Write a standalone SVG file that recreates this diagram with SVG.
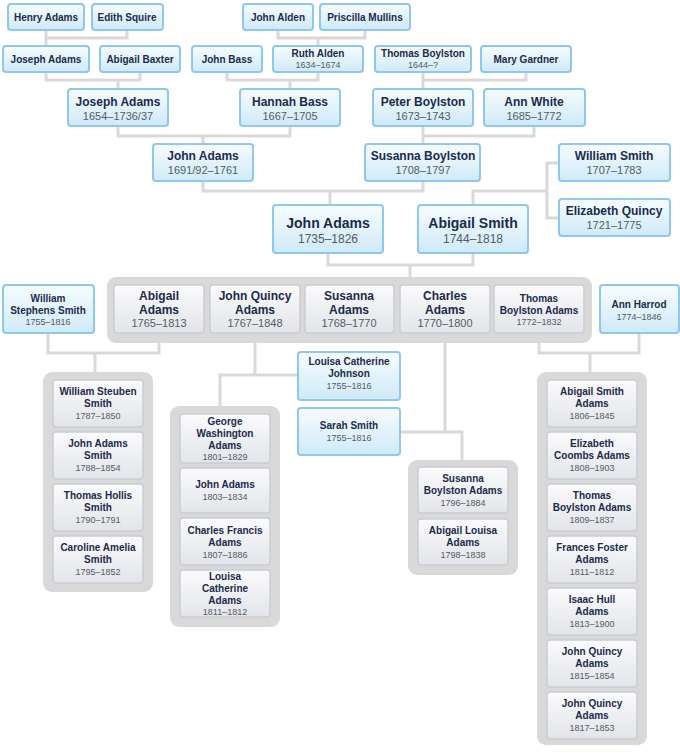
<svg xmlns="http://www.w3.org/2000/svg" width="680" height="755" viewBox="0 0 680 755">
<defs>
<linearGradient id="gb" x1="0" y1="0" x2="0" y2="1"><stop offset="0" stop-color="#f7fcff"/><stop offset="1" stop-color="#cfeaf8"/></linearGradient>
<linearGradient id="gg" x1="0" y1="0" x2="0" y2="1"><stop offset="0" stop-color="#fbfbfc"/><stop offset="1" stop-color="#e2e4e9"/></linearGradient>
</defs>
<style>
.b{fill:url(#gb);stroke:#8fc8ec;stroke-width:2}
.g{fill:url(#gg);stroke:#c9cdd4;stroke-width:1.5}
.grp{fill:#d9d9d9}
.c{fill:none;stroke:#d9d9d9;stroke-width:3}
text{font-family:"Liberation Sans",Arial,sans-serif;text-anchor:middle;fill:#1b2b4b}
.s{font-size:10px;font-weight:bold}
.m{font-size:12px;font-weight:bold}
.l{font-size:14px;font-weight:bold}
.d{font-weight:normal;fill:#555c66}
.ds{font-size:9px}
.dm{font-size:11px}
.dl{font-size:12px}
</style>
<g id="connectors">
<path class="c" d="M46,30V38H127V30M46,38V46"/>
<path class="c" d="M278,30V38H365V30M318,38V46"/>
<path class="c" d="M46,72V80H140V72M118,80V89"/>
<path class="c" d="M227,72V80H318V72M290,80V89"/>
<path class="c" d="M423,72V80H526V72M423,80V89"/>
<path class="c" d="M118,126V136H290V126M203,136V144"/>
<path class="c" d="M423,126V136H534V126M423,136V144"/>
<path class="c" d="M203,181V191H423V181M330,191V205"/>
<path class="c" d="M559,163H547V218H559M547,191H473V205"/>
<path class="c" d="M328,253V265H473V253M410,265V277"/>
<path class="c" d="M48,333V353H159V342M95,353V372"/>
<path class="c" d="M255,333V375M298,375H220V406"/>
<path class="c" d="M445,342V432M400,432H462V460"/>
<path class="c" d="M539,342V353H639V333M590,353V372"/>
</g>
<g id="groups">
<rect class="grp" x="107" y="277" width="485" height="66" rx="9"/>
<rect class="grp" x="43" y="372" width="110" height="220" rx="9"/>
<rect class="grp" x="170" y="406" width="110" height="221" rx="9"/>
<rect class="grp" x="408" y="460" width="110" height="115" rx="9"/>
<rect class="grp" x="537" y="372" width="110" height="373" rx="9"/>
</g>
<g id="n-henry"><rect class="b" x="8" y="4" width="76" height="26" rx="3"/><text class="s" x="46" y="21">Henry Adams</text></g>
<g id="n-edith"><rect class="b" x="92" y="4" width="71" height="26" rx="3"/><text class="s" x="127" y="21">Edith Squire</text></g>
<g id="n-jalden"><rect class="b" x="243" y="4" width="70" height="26" rx="3"/><text class="s" x="278" y="21">John Alden</text></g>
<g id="n-priscilla"><rect class="b" x="320" y="4" width="90" height="26" rx="3"/><text class="s" x="365" y="21">Priscilla Mullins</text></g>
<g id="n-joseph1"><rect class="b" x="3" y="46" width="86" height="26" rx="3"/><text class="s" x="46" y="63">Joseph Adams</text></g>
<g id="n-abaxter"><rect class="b" x="100" y="46" width="80" height="26" rx="3"/><text class="s" x="140" y="63">Abigail Baxter</text></g>
<g id="n-jbass"><rect class="b" x="192" y="46" width="70" height="26" rx="3"/><text class="s" x="227" y="63">John Bass</text></g>
<g id="n-ruth"><rect class="b" x="273" y="46" width="90" height="26" rx="3"/><text class="s" x="318" y="57">Ruth Alden</text><text class="d ds" x="318" y="68">1634–1674</text></g>
<g id="n-tboylston"><rect class="b" x="375" y="46" width="96" height="26" rx="3"/><text class="s" x="423" y="57">Thomas Boylston</text><text class="d ds" x="423" y="68">1644–?</text></g>
<g id="n-mgardner"><rect class="b" x="481" y="46" width="90" height="26" rx="3"/><text class="s" x="526" y="63">Mary Gardner</text></g>
<g id="n-joseph2"><rect class="b" x="68" y="89" width="100" height="37" rx="3"/><text class="m" x="118" y="106">Joseph Adams</text><text class="d dm" x="118" y="120">1654–1736/37</text></g>
<g id="n-hannah"><rect class="b" x="240" y="89" width="100" height="37" rx="3"/><text class="m" x="290" y="106">Hannah Bass</text><text class="d dm" x="290" y="120">1667–1705</text></g>
<g id="n-peter"><rect class="b" x="373" y="89" width="100" height="37" rx="3"/><text class="m" x="423" y="106">Peter Boylston</text><text class="d dm" x="423" y="120">1673–1743</text></g>
<g id="n-ann"><rect class="b" x="484" y="89" width="101" height="37" rx="3"/><text class="m" x="534" y="106">Ann White</text><text class="d dm" x="534" y="120">1685–1772</text></g>
<g id="n-john1"><rect class="b" x="153" y="144" width="100" height="37" rx="3"/><text class="m" x="203" y="160">John Adams</text><text class="d dm" x="203" y="174">1691/92–1761</text></g>
<g id="n-susanna"><rect class="b" x="365" y="144" width="115" height="37" rx="3"/><text class="m" x="423" y="160">Susanna Boylston</text><text class="d dm" x="423" y="174">1708–1797</text></g>
<g id="n-wsmith"><rect class="b" x="559" y="144" width="111" height="37" rx="3"/><text class="m" x="614" y="160">William Smith</text><text class="d dm" x="614" y="174">1707–1783</text></g>
<g id="n-equincy"><rect class="b" x="559" y="199" width="111" height="37" rx="3"/><text class="m" x="614" y="215">Elizabeth Quincy</text><text class="d dm" x="614" y="229">1721–1775</text></g>
<g id="n-john2"><rect class="b" x="273" y="205" width="110" height="48" rx="3" stroke-width="3"/><text class="l" x="328" y="228">John Adams</text><text class="d dl" x="328" y="243">1735–1826</text></g>
<g id="n-abigail"><rect class="b" x="418" y="205" width="110" height="48" rx="3" stroke-width="3"/><text class="l" x="473" y="228">Abigail Smith</text><text class="d dl" x="473" y="243">1744–1818</text></g>
<g id="n-wss"><rect class="b" x="3" y="285" width="91" height="48" rx="3"/><text class="s" x="48" y="302">William</text><text class="s" x="48" y="314">Stephens Smith</text><text class="d ds" x="48" y="325">1755–1816</text></g>
<g id="n-aadams"><rect class="g" x="114" y="285" width="90" height="48" rx="3"/><text class="m" x="159" y="300">Abigail</text><text class="m" x="159" y="314">Adams</text><text class="d dm" x="159" y="327">1765–1813</text></g>
<g id="n-jqa"><rect class="g" x="210" y="285" width="90" height="48" rx="3"/><text class="m" x="255" y="300">John Quincy</text><text class="m" x="255" y="314">Adams</text><text class="d dm" x="255" y="327">1767–1848</text></g>
<g id="n-sadams"><rect class="g" x="305" y="285" width="89" height="48" rx="3"/><text class="m" x="349" y="300">Susanna</text><text class="m" x="349" y="314">Adams</text><text class="d dm" x="349" y="327">1768–1770</text></g>
<g id="n-cadams"><rect class="g" x="400" y="285" width="90" height="48" rx="3"/><text class="m" x="445" y="300">Charles</text><text class="m" x="445" y="314">Adams</text><text class="d dm" x="445" y="327">1770–1800</text></g>
<g id="n-tba"><rect class="g" x="494" y="285" width="90" height="48" rx="3"/><text class="s" x="539" y="302">Thomas</text><text class="s" x="539" y="314">Boylston Adams</text><text class="d ds" x="539" y="325">1772–1832</text></g>
<g id="n-aharrod"><rect class="b" x="600" y="285" width="79" height="48" rx="3"/><text class="s" x="639" y="308">Ann Harrod</text><text class="d ds" x="639" y="320">1774–1846</text></g>
<g id="n-louisa"><rect class="b" x="298" y="352" width="102" height="48" rx="3"/><text class="s" x="349" y="365">Louisa Catherine</text><text class="s" x="349" y="377">Johnson</text><text class="d ds" x="349" y="389">1755–1816</text></g>
<g id="n-sarah"><rect class="b" x="298" y="408" width="102" height="47" rx="3"/><text class="s" x="349" y="429">Sarah Smith</text><text class="d ds" x="349" y="441">1755–1816</text></g>
<g id="n-wsts"><rect class="g" x="53" y="380" width="90" height="47" rx="3"/><text class="s" x="98" y="395">William Steuben</text><text class="s" x="98" y="407">Smith</text><text class="d ds" x="98" y="419">1787–1850</text></g>
<g id="n-jas"><rect class="g" x="53" y="432" width="90" height="47" rx="3"/><text class="s" x="98" y="447">John Adams</text><text class="s" x="98" y="459">Smith</text><text class="d ds" x="98" y="471">1788–1854</text></g>
<g id="n-ths"><rect class="g" x="53" y="484" width="90" height="47" rx="3"/><text class="s" x="98" y="499">Thomas Hollis</text><text class="s" x="98" y="511">Smith</text><text class="d ds" x="98" y="523">1790–1791</text></g>
<g id="n-cas"><rect class="g" x="53" y="536" width="90" height="47" rx="3"/><text class="s" x="98" y="551">Caroline Amelia</text><text class="s" x="98" y="563">Smith</text><text class="d ds" x="98" y="575">1795–1852</text></g>
<g id="n-gwa"><rect class="g" x="180" y="414" width="90" height="49" rx="3"/><text class="s" x="225" y="425">George</text><text class="s" x="225" y="437">Washington</text><text class="s" x="225" y="449">Adams</text><text class="d ds" x="225" y="460">1801–1829</text></g>
<g id="n-ja3"><rect class="g" x="180" y="468" width="90" height="45" rx="3"/><text class="s" x="225" y="488">John Adams</text><text class="d ds" x="225" y="500">1803–1834</text></g>
<g id="n-cfa"><rect class="g" x="180" y="518" width="90" height="47" rx="3"/><text class="s" x="225" y="534">Charles Francis</text><text class="s" x="225" y="546">Adams</text><text class="d ds" x="225" y="558">1807–1886</text></g>
<g id="n-lca"><rect class="g" x="180" y="570" width="90" height="47" rx="3"/><text class="s" x="225" y="580">Louisa</text><text class="s" x="225" y="592">Catherine</text><text class="s" x="225" y="604">Adams</text><text class="d ds" x="225" y="615">1811–1812</text></g>
<g id="n-sba"><rect class="g" x="418" y="467" width="90" height="46" rx="3"/><text class="s" x="463" y="482">Susanna</text><text class="s" x="463" y="494">Boylston Adams</text><text class="d ds" x="463" y="506">1796–1884</text></g>
<g id="n-ala"><rect class="g" x="418" y="519" width="90" height="46" rx="3"/><text class="s" x="463" y="534">Abigail Louisa</text><text class="s" x="463" y="546">Adams</text><text class="d ds" x="463" y="558">1798–1838</text></g>
<g id="n-asa"><rect class="g" x="547" y="380" width="90" height="47" rx="3"/><text class="s" x="592" y="395">Abigail Smith</text><text class="s" x="592" y="407">Adams</text><text class="d ds" x="592" y="419">1806–1845</text></g>
<g id="n-eca"><rect class="g" x="547" y="432" width="90" height="47" rx="3"/><text class="s" x="592" y="447">Elizabeth</text><text class="s" x="592" y="459">Coombs Adams</text><text class="d ds" x="592" y="471">1808–1903</text></g>
<g id="n-tba2"><rect class="g" x="547" y="484" width="90" height="47" rx="3"/><text class="s" x="592" y="499">Thomas</text><text class="s" x="592" y="511">Boylston Adams</text><text class="d ds" x="592" y="523">1809–1837</text></g>
<g id="n-ffa"><rect class="g" x="547" y="536" width="90" height="47" rx="3"/><text class="s" x="592" y="551">Frances Foster</text><text class="s" x="592" y="563">Adams</text><text class="d ds" x="592" y="575">1811–1812</text></g>
<g id="n-iha"><rect class="g" x="547" y="588" width="90" height="47" rx="3"/><text class="s" x="592" y="603">Isaac Hull</text><text class="s" x="592" y="615">Adams</text><text class="d ds" x="592" y="627">1813–1900</text></g>
<g id="n-jqa2"><rect class="g" x="547" y="640" width="90" height="47" rx="3"/><text class="s" x="592" y="655">John Quincy</text><text class="s" x="592" y="667">Adams</text><text class="d ds" x="592" y="679">1815–1854</text></g>
<g id="n-jqa3"><rect class="g" x="547" y="692" width="90" height="47" rx="3"/><text class="s" x="592" y="707">John Quincy</text><text class="s" x="592" y="719">Adams</text><text class="d ds" x="592" y="731">1817–1853</text></g>
</svg>
